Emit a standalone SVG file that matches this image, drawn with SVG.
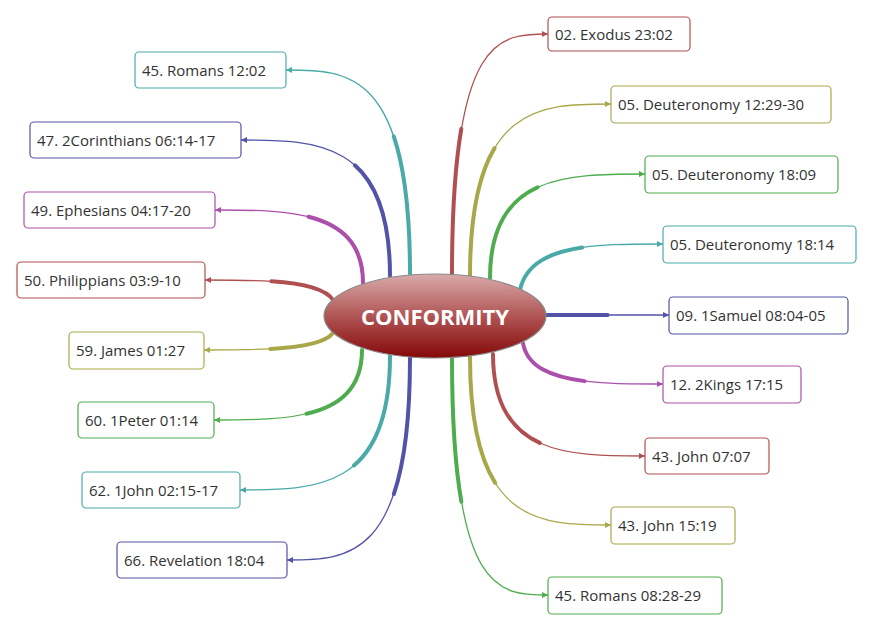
<svg xmlns="http://www.w3.org/2000/svg" width="873" height="630" viewBox="0 0 873 630">
<defs>
<linearGradient id="g" x1="0" y1="0" x2="0" y2="1"><stop offset="0" stop-color="#d9aaaa"/><stop offset="0.5" stop-color="#b05555"/><stop offset="1" stop-color="#850808"/></linearGradient>
<marker id="mr" viewBox="0 0 6 6" refX="6" refY="3" markerWidth="6" markerHeight="6" orient="auto" markerUnits="userSpaceOnUse"><path d="M0,0L6,3L0,6z" fill="#b05050"/></marker>
<marker id="mo" viewBox="0 0 6 6" refX="6" refY="3" markerWidth="6" markerHeight="6" orient="auto" markerUnits="userSpaceOnUse"><path d="M0,0L6,3L0,6z" fill="#a8a84a"/></marker>
<marker id="mg" viewBox="0 0 6 6" refX="6" refY="3" markerWidth="6" markerHeight="6" orient="auto" markerUnits="userSpaceOnUse"><path d="M0,0L6,3L0,6z" fill="#4fac4f"/></marker>
<marker id="mt" viewBox="0 0 6 6" refX="6" refY="3" markerWidth="6" markerHeight="6" orient="auto" markerUnits="userSpaceOnUse"><path d="M0,0L6,3L0,6z" fill="#4aaaa8"/></marker>
<marker id="mb" viewBox="0 0 6 6" refX="6" refY="3" markerWidth="6" markerHeight="6" orient="auto" markerUnits="userSpaceOnUse"><path d="M0,0L6,3L0,6z" fill="#5353a8"/></marker>
<marker id="mp" viewBox="0 0 6 6" refX="6" refY="3" markerWidth="6" markerHeight="6" orient="auto" markerUnits="userSpaceOnUse"><path d="M0,0L6,3L0,6z" fill="#ab50ab"/></marker>
</defs>
<style>
.n rect{fill:#fff;stroke-width:1.2}
.n text{font-family:"Open Sans","Liberation Sans",sans-serif;font-size:15px;fill:#333;dominant-baseline:central}
.r rect,.r path{stroke:#b05050}.o rect,.o path{stroke:#a8a84a}.g rect,.g path{stroke:#4fac4f}
.t rect,.t path{stroke:#4aaaa8}.b rect,.b path{stroke:#5353a8}.p rect,.p path{stroke:#ab50ab}
#c path{fill:none;stroke-linecap:round}
#c .w{stroke-width:4;stroke-dasharray:50 100}
#c .l{stroke-width:1.3}
</style>
<g id="c">
<g class="r"><path class="w" pathLength="100" d="M452,274 C452,34 500,34 548,34"/><path class="l" marker-end="url(#mr)" d="M452,274 C452,34 500,34 548,34"/></g>
<g class="o"><path class="w" pathLength="100" d="M470,276 C470,104 540,104 611,104"/><path class="l" marker-end="url(#mo)" d="M470,276 C470,104 540,104 611,104"/></g>
<g class="g"><path class="w" pathLength="100" d="M490,278 C490,174 567,174 645,174"/><path class="l" marker-end="url(#mg)" d="M490,278 C490,174 567,174 645,174"/></g>
<g class="t"><path class="w" pathLength="100" d="M520,290 C530,244 596,244 663,244"/><path class="l" marker-end="url(#mt)" d="M520,290 C530,244 596,244 663,244"/></g>
<g class="b"><path class="w" pathLength="100" d="M546,315 C600,315 630,315 669,315"/><path class="l" marker-end="url(#mb)" d="M546,315 C600,315 630,315 669,315"/></g>
<g class="p"><path class="w" pathLength="100" d="M523,343 C530,384 596,384 663,384"/><path class="l" marker-end="url(#mp)" d="M523,343 C530,384 596,384 663,384"/></g>
<g class="r"><path class="w" pathLength="100" d="M493,354 C493,456 569,456 645,456"/><path class="l" marker-end="url(#mr)" d="M493,354 C493,456 569,456 645,456"/></g>
<g class="o"><path class="w" pathLength="100" d="M470,357 C470,525 540,525 611,525"/><path class="l" marker-end="url(#mo)" d="M470,357 C470,525 540,525 611,525"/></g>
<g class="g"><path class="w" pathLength="100" d="M452,358 C452,595 500,595 548,595"/><path class="l" marker-end="url(#mg)" d="M452,358 C452,595 500,595 548,595"/></g>
<g class="t"><path class="w" pathLength="100" d="M410,274 C410,70 348,70 286,70"/><path class="l" marker-end="url(#mt)" d="M410,274 C410,70 348,70 286,70"/></g>
<g class="b"><path class="w" pathLength="100" d="M390,276 C390,140 316,140 241,140"/><path class="l" marker-end="url(#mb)" d="M390,276 C390,140 316,140 241,140"/></g>
<g class="p"><path class="w" pathLength="100" d="M363,283 C363,210 289,210 215,210"/><path class="l" marker-end="url(#mp)" d="M363,283 C363,210 289,210 215,210"/></g>
<g class="r"><path class="w" pathLength="100" d="M333,300 C320,280 262,280 205,280"/><path class="l" marker-end="url(#mr)" d="M333,300 C320,280 262,280 205,280"/></g>
<g class="o"><path class="w" pathLength="100" d="M333,333 C320,350 262,350 204,350"/><path class="l" marker-end="url(#mo)" d="M333,333 C320,350 262,350 204,350"/></g>
<g class="g"><path class="w" pathLength="100" d="M362,350 C362,420 288,420 214,420"/><path class="l" marker-end="url(#mg)" d="M362,350 C362,420 288,420 214,420"/></g>
<g class="t"><path class="w" pathLength="100" d="M390,356 C390,490 315,490 240,490"/><path class="l" marker-end="url(#mt)" d="M390,356 C390,490 315,490 240,490"/></g>
<g class="b"><path class="w" pathLength="100" d="M410,358 C410,560 348,560 287,560"/><path class="l" marker-end="url(#mb)" d="M410,358 C410,560 348,560 287,560"/></g>
</g>
<g id="center"><ellipse cx="435" cy="316" rx="111" ry="42" fill="url(#g)" stroke="#888" stroke-width="1.2"/><text x="435" y="316" text-anchor="middle" dominant-baseline="central" font-family="'Open Sans','Liberation Sans',sans-serif" font-size="22" font-weight="bold" fill="#fff">CONFORMITY</text></g>
<g id="n1" class="n r"><rect x="548" y="17" width="142" height="34" rx="4"/><text x="555" y="34">02. Exodus 23:02</text></g>
<g id="n2" class="n o"><rect x="611" y="86" width="220" height="37" rx="4"/><text x="618" y="104">05. Deuteronomy 12:29-30</text></g>
<g id="n3" class="n g"><rect x="645" y="156" width="193" height="37" rx="4"/><text x="652" y="174">05. Deuteronomy 18:09</text></g>
<g id="n4" class="n t"><rect x="663" y="226" width="193" height="37" rx="4"/><text x="670" y="244">05. Deuteronomy 18:14</text></g>
<g id="n5" class="n b"><rect x="669" y="297" width="179" height="37" rx="4"/><text x="676" y="315">09. 1Samuel 08:04-05</text></g>
<g id="n6" class="n p"><rect x="663" y="366" width="138" height="37" rx="4"/><text x="670" y="384">12. 2Kings 17:15</text></g>
<g id="n7" class="n r"><rect x="645" y="438" width="124" height="36" rx="4"/><text x="652" y="456">43. John 07:07</text></g>
<g id="n8" class="n o"><rect x="611" y="507" width="124" height="37" rx="4"/><text x="618" y="525">43. John 15:19</text></g>
<g id="n9" class="n g"><rect x="548" y="577" width="174" height="37" rx="4"/><text x="555" y="595">45. Romans 08:28-29</text></g>
<g id="n10" class="n t"><rect x="135" y="52" width="151" height="36" rx="4"/><text x="142" y="70">45. Romans 12:02</text></g>
<g id="n11" class="n b"><rect x="30" y="122" width="211" height="36" rx="4"/><text x="37" y="140">47. 2Corinthians 06:14-17</text></g>
<g id="n12" class="n p"><rect x="24" y="192" width="191" height="36" rx="4"/><text x="31" y="210">49. Ephesians 04:17-20</text></g>
<g id="n13" class="n r"><rect x="17" y="262" width="188" height="36" rx="4"/><text x="24" y="280">50. Philippians 03:9-10</text></g>
<g id="n14" class="n o"><rect x="69" y="332" width="135" height="37" rx="4"/><text x="76" y="350">59. James 01:27</text></g>
<g id="n15" class="n g"><rect x="78" y="402" width="136" height="36" rx="4"/><text x="85" y="420">60. 1Peter 01:14</text></g>
<g id="n16" class="n t"><rect x="82" y="472" width="158" height="36" rx="4"/><text x="89" y="490">62. 1John 02:15-17</text></g>
<g id="n17" class="n b"><rect x="117" y="542" width="170" height="36" rx="4"/><text x="124" y="560">66. Revelation 18:04</text></g>
</svg>
